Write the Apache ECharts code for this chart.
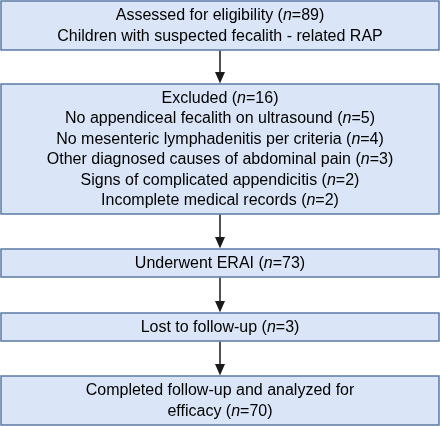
<!DOCTYPE html>
<html>
<head>
<meta charset="utf-8">
<script src="https://cdn.jsdelivr.net/npm/echarts@6/dist/echarts.min.js"></script>
<style>
html,body{margin:0;padding:0;background:#fff;}
#chart{width:440px;height:426px;}
</style>
</head>
<body>
<div id="chart"></div>
<script>
// ---- data ----
const stageTitles = ['Assessed for eligibility', 'Excluded', 'Underwent ERAI', 'Lost to follow-up', 'Completed follow-up and analyzed for\nefficacy'];
const stageCounts = [89, 16, 73, 3, 70];
const stageSubtitle = 'Children with suspected fecalith - related RAP';
const exclusionReasons = [
  'No appendiceal fecalith on ultrasound',
  'No mesenteric lymphadenitis per criteria',
  'Other diagnosed causes of abdominal pain',
  'Signs of complicated appendicitis',
  'Incomplete medical records'
];
const exclusionCounts = [5, 4, 3, 2, 2];

// ---- layout (pixel-space on hidden value axes) ----
const boxTop = [1, 84, 249, 313, 376];
const boxBottom = [50, 214, 277, 341, 425];
const boxLeft = 1, boxRight = 439, arrowX = 220;

function nText(label, count) {
  return '{t|' + label + ' (}{i|n}{t|=' + count + ')}';
}
function boxText(i) {
  const lines = [];
  if (i === 0) {
    lines.push(nText(stageTitles[0], stageCounts[0]));
    lines.push('{t|' + stageSubtitle + '}');
  } else if (i === 1) {
    lines.push(nText(stageTitles[1], stageCounts[1]));
    exclusionReasons.forEach((r, k) => lines.push(nText(r, exclusionCounts[k])));
  } else {
    const parts = stageTitles[i].split('\n');
    parts.forEach((p, k) => {
      if (k === parts.length - 1) lines.push(nText(p, stageCounts[i]));
      else lines.push('{t|' + p + '}');
    });
  }
  return lines.join('\n');
}

const font = '"Liberation Sans", Arial, sans-serif';
const rich = {
  t: { fontFamily: font, fontSize: 16, color: '#1f1f1f', lineHeight: 20.4 },
  i: { fontFamily: font, fontSize: 16, color: '#1f1f1f', fontStyle: 'italic', lineHeight: 20.4 }
};

const chart = echarts.init(document.getElementById('chart'), null, { renderer: 'canvas' });
chart.setOption({
  animation: false,
  grid: { left: 0, right: 0, top: 0, bottom: 0 },
  xAxis: { type: 'value', min: 0, max: 440, show: false },
  yAxis: { type: 'value', min: 0, max: 426, inverse: true, show: false },
  series: [
    {
      type: 'custom',
      coordinateSystem: 'cartesian2d',
      data: stageCounts.map((c, i) => [i, c]),
      renderItem: function (params, api) {
        const i = api.value(0);
        const p0 = api.coord([boxLeft, boxTop[i]]);
        const p1 = api.coord([boxRight, boxBottom[i]]);
        const cx = (p0[0] + p1[0]) / 2, cy = (p0[1] + p1[1]) / 2;
        return {
          type: 'group',
          children: [
            { type: 'rect', shape: { x: p0[0], y: p0[1], width: p1[0] - p0[0], height: p1[1] - p0[1] },
              style: { fill: '#dae6f7', stroke: '#5b7aa5', lineWidth: 1.5 } },
            { type: 'text', x: cx, y: cy + 0.5,
              style: { text: boxText(i), align: 'center', verticalAlign: 'middle', rich: rich } }
          ]
        };
      }
    },
    {
      type: 'custom',
      coordinateSystem: 'cartesian2d',
      data: stageCounts.slice(1).map((c, i) => [i, c]),
      renderItem: function (params, api) {
        const i = api.value(0);
        const a = api.coord([arrowX, boxBottom[i]]);
        const b = api.coord([arrowX, boxTop[i + 1]]);
        const headH = 12, headW = 5;
        return {
          type: 'group',
          children: [
            { type: 'line', shape: { x1: a[0], y1: a[1] + 0.75, x2: b[0], y2: b[1] - headH + 1 },
              style: { stroke: '#1a1a1a', lineWidth: 1.5 } },
            { type: 'polygon', shape: { points: [[b[0] - headW, b[1] - headH], [b[0] + headW, b[1] - headH], [b[0], b[1] - 0.5]] },
              style: { fill: '#1a1a1a' } }
          ]
        };
      }
    }
  ]
});
</script>
</body>
</html>
